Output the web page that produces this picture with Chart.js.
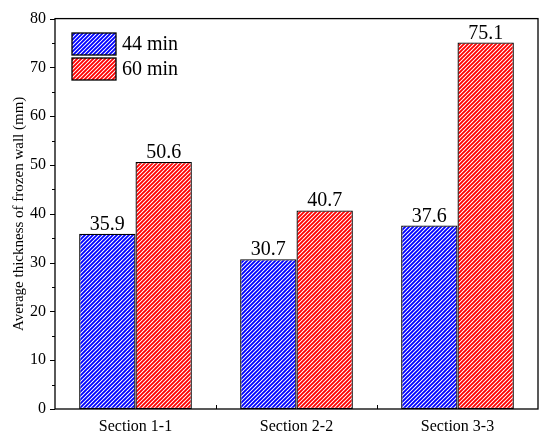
<!DOCTYPE html>
<html>
<head>
<meta charset="utf-8">
<script src="https://cdn.jsdelivr.net/npm/chart.js@4.4.1/dist/chart.umd.min.js"></script>
<style>
  html, body { margin: 0; padding: 0; background: #fff; }
  #wrap { width: 550px; height: 438px; }
</style>
</head>
<body>
<div id="wrap"><canvas id="myChart" width="550" height="438"></canvas></div>
<script>
const categories = ['Section 1-1', 'Section 2-2', 'Section 3-3']
const series44 = [35.9, 30.7, 37.6]
const series60 = [50.6, 40.7, 75.1]
const seriesNames = ['44 min', '60 min']
const yTicks = [0, 10, 20, 30, 40, 50, 60, 70, 80]

const FONT = '"Liberation Serif", "Times New Roman", serif'

// diagonal hatch like the original
function hatch(color) {
    const c = document.createElement('canvas')
    c.width = 8
    c.height = 8
    const g = c.getContext('2d')
    g.fillStyle = '#fff'
    g.fillRect(0, 0, 8, 8)
    g.strokeStyle = color
    g.lineWidth = 1.9
    g.beginPath()
    for (let k = -8; k <= 16; k += 4) {
        g.moveTo(k - 2, 10)
        g.lineTo(k + 10, -2)
    }
    g.stroke()
    return g.createPattern(c, 'repeat')
}

const bluePat = hatch('#0000ff')
const redPat = hatch('#ff0000')

// frame, ticks, value labels, legend
const extras = {
    id: 'extras',
    afterDraw(chart) {
        const ctx = chart.ctx
        const a = chart.chartArea
        const y = chart.scales.y
        const x = chart.scales.x
        ctx.save()
        ctx.strokeStyle = '#000'
        ctx.lineWidth = 1.3
        ctx.strokeRect(a.left, a.top, a.right - a.left, a.bottom - a.top)

        // y ticks, major outward, minor shorter
        ctx.lineWidth = 1
        for (let v = 0; v <= 80; v += 5) {
            const py = Math.round(y.getPixelForValue(v)) + 0.5
            const len = v % 10 === 0 ? 5 : 3
            ctx.beginPath()
            ctx.moveTo(a.left, py)
            ctx.lineTo(a.left - len, py)
            ctx.stroke()
        }
        // x ticks between categories, inward
        for (let i = 1; i < categories.length; i++) {
            const px = Math.round((x.getPixelForValue(i - 1) + x.getPixelForValue(i)) / 2) + 0.5
            ctx.beginPath()
            ctx.moveTo(px, a.bottom)
            ctx.lineTo(px, a.bottom - 4)
            ctx.stroke()
        }

        // value labels
        ctx.fillStyle = '#000'
        ctx.font = '20px ' + FONT
        ctx.textAlign = 'center'
        ctx.textBaseline = 'alphabetic'
        chart.data.datasets.forEach((ds, di) => {
            chart.getDatasetMeta(di).data.forEach((bar, i) => {
                ctx.fillText(ds.data[i].toFixed(1), bar.x, bar.y - 4)
            })
        })

        // legend
        ctx.font = '20px ' + FONT
        ctx.textAlign = 'left'
        ctx.textBaseline = 'middle'
        chart.data.datasets.forEach((ds, di) => {
            const bx = 72
            const by = 33 + di * 25
            ctx.fillStyle = ds.backgroundColor
            ctx.fillRect(bx, by, 44, 22)
            ctx.lineWidth = 1.3
            ctx.strokeRect(bx, by, 44, 22)
            ctx.fillStyle = '#000'
            ctx.fillText(ds.label, bx + 50, by + 12)
        })
        ctx.restore()
    }
}

const config = {
    type: 'bar',
    data: {
        labels: categories,
        datasets: [
            {
                label: seriesNames[0],
                data: series44,
                backgroundColor: bluePat,
                borderColor: '#000',
                borderWidth: 1.3,
                borderSkipped: false
            },
            {
                label: seriesNames[1],
                data: series60,
                backgroundColor: redPat,
                borderColor: '#000',
                borderWidth: 1.3,
                borderSkipped: false
            }
        ]
    },
    options: {
        responsive: false,
        animation: false,
        devicePixelRatio: 1,
        layout: { padding: { top: 18, right: 12, left: 0, bottom: 0 } },
        datasets: { bar: { categoryPercentage: 0.70, barPercentage: 1.0 } },
        plugins: {
            legend: { display: false },
            tooltip: { enabled: false }
        },
        scales: {
            x: {
                afterFit(s) { s.height = 29 },
                grid: { display: false, drawTicks: false },
                border: { display: false },
                ticks: { color: '#000', font: { family: FONT, size: 16 }, padding: 8 }
            },
            y: {
                min: 0,
                max: 80,
                afterFit(s) { s.width = 55 },
                afterBuildTicks(s) { s.ticks = yTicks.map(v => ({ value: v })) },
                grid: { display: false, drawTicks: false },
                border: { display: false },
                ticks: { color: '#000', font: { family: FONT, size: 16 }, padding: 9 },
                title: {
                    display: true,
                    text: 'Average thickness of frozen wall (mm)',
                    color: '#000',
                    font: { family: FONT, size: 15 },
                    padding: { top: 10, bottom: 0 }
                }
            }
        }
    },
    plugins: [extras]
}

const chart = new Chart(document.querySelector('#myChart'), config)
</script>
</body>
</html>
